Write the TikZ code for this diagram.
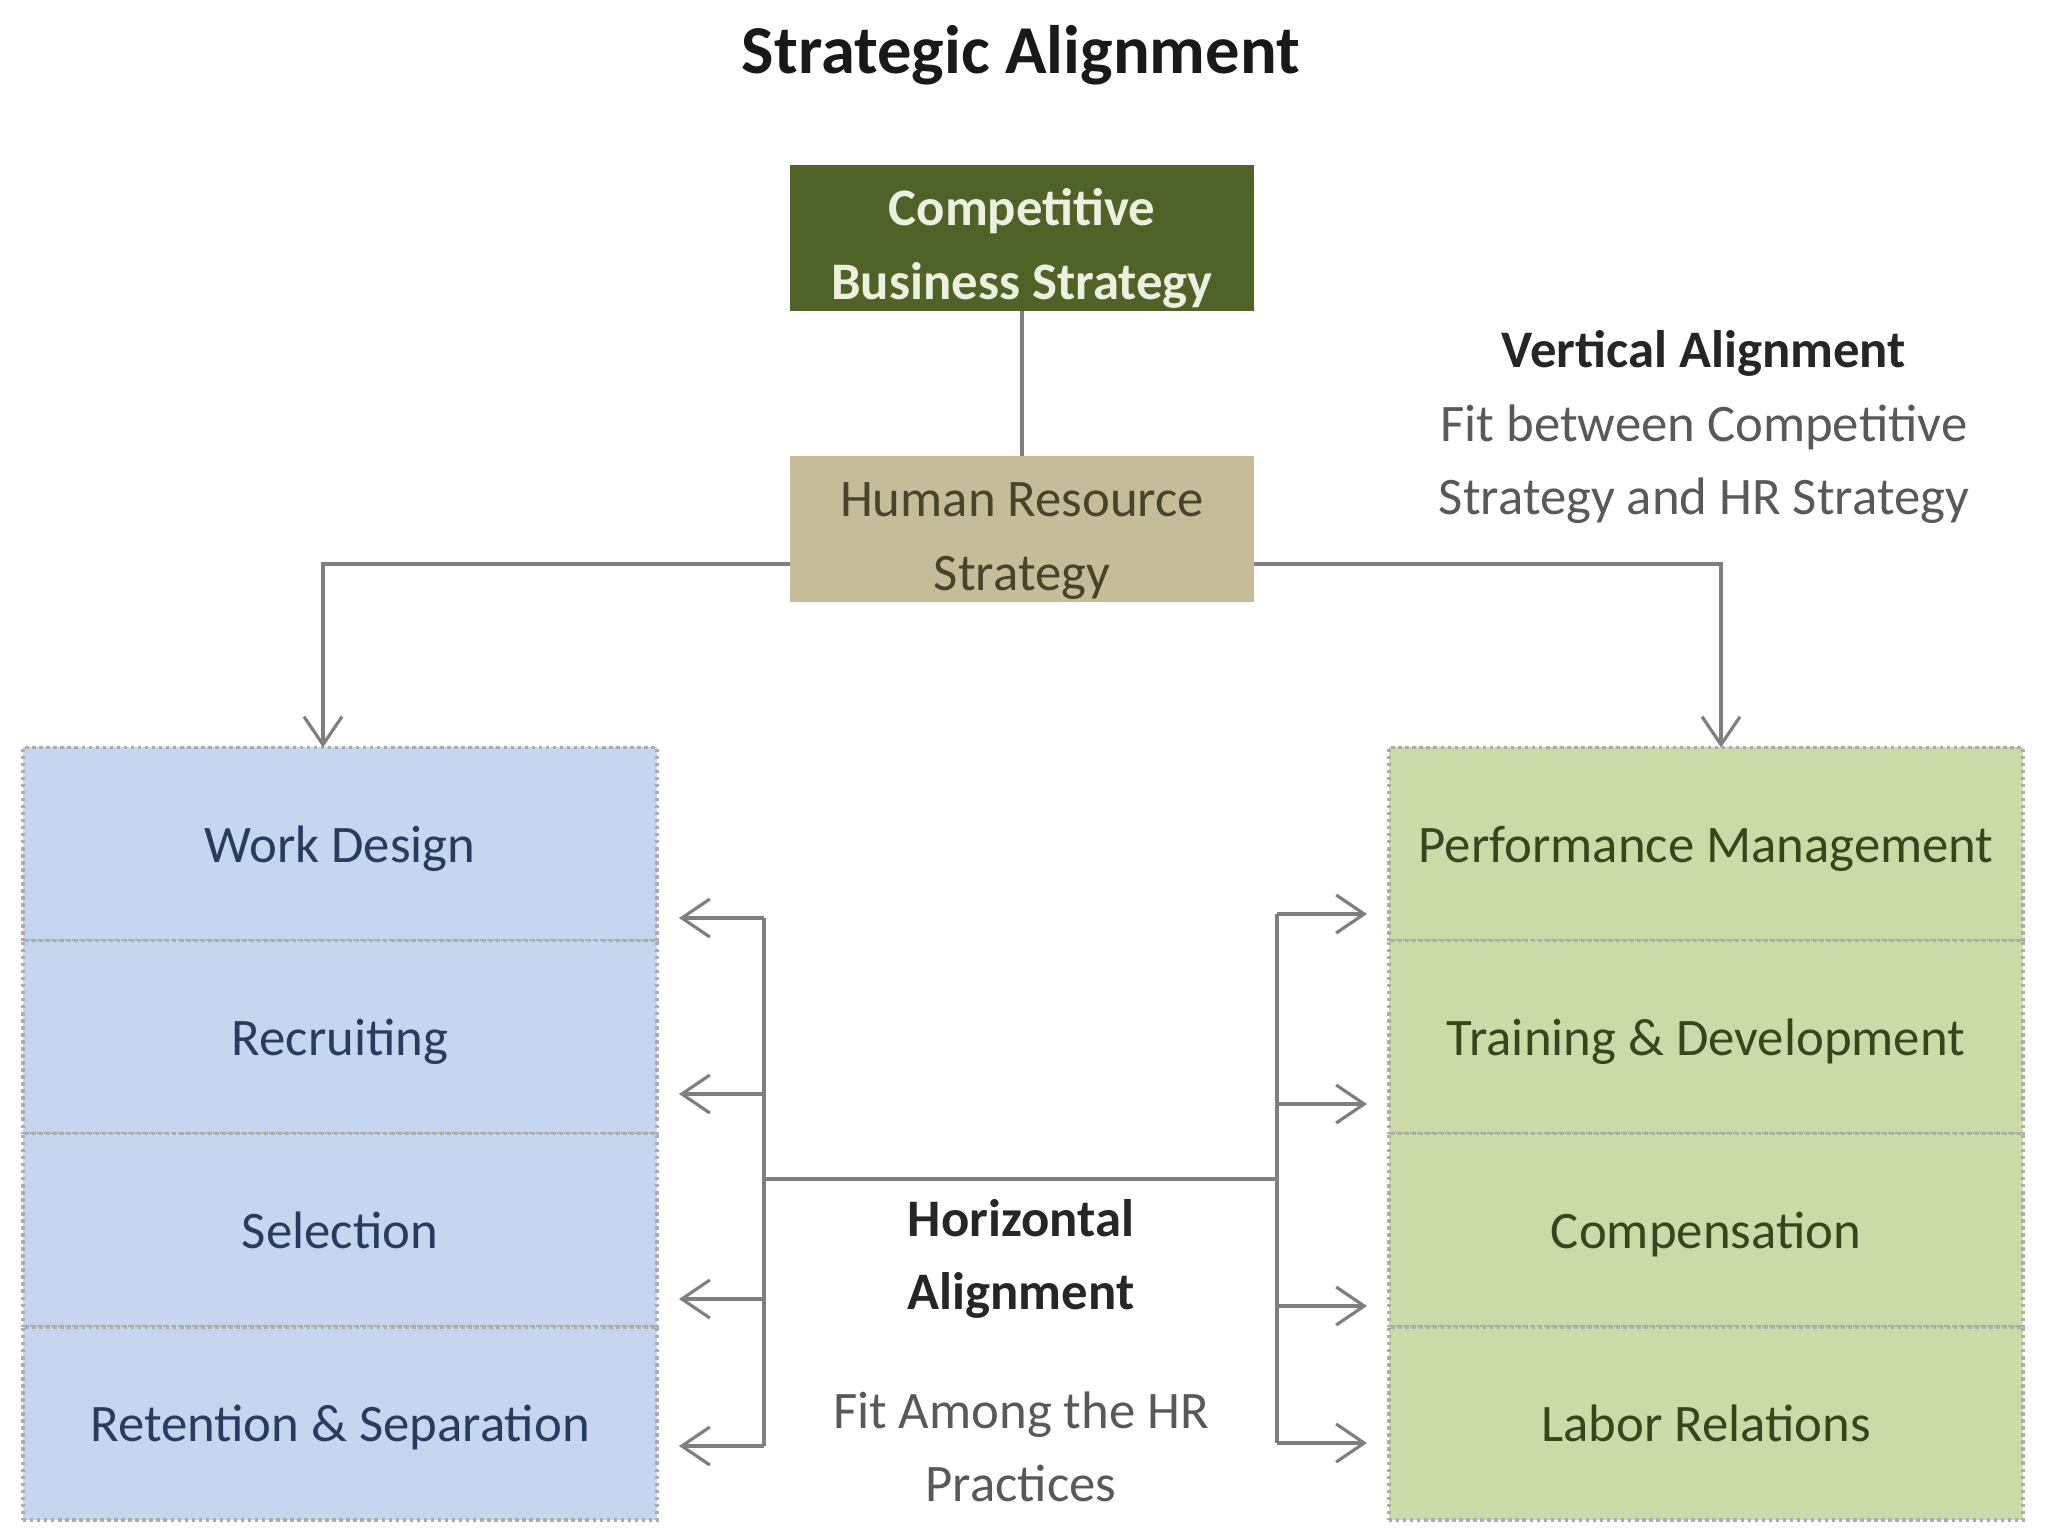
\documentclass[tikz,border=0pt]{standalone}
\usepackage{fontspec}
\setmainfont{Carlito}
\usepackage{xcolor}
\usepackage{tikz}
\usetikzlibrary{arrows.meta,positioning}
\definecolor{olivedark}{HTML}{4F6228}
\definecolor{olivelight}{HTML}{EBF1DE}
\definecolor{tanfill}{HTML}{C4BD97}
\definecolor{tantext}{HTML}{494429}
\definecolor{bluefill}{HTML}{C6D6EF}
\definecolor{bluetext}{HTML}{2A3C5E}
\definecolor{greenfill}{HTML}{CADBA7}
\definecolor{greentext}{HTML}{37461C}
\definecolor{linegray}{HTML}{7F7F7F}
\definecolor{notegray}{HTML}{595959}
\newcommand{\boxstrut}{\rule{0pt}{0.58cm}}
\tikzset{
  basefont/.style={font=\fontsize{15}{20.8}\selectfont},
  strategybox/.style={basefont,align=center,minimum width=4.63cm,minimum height=1.46cm,
    inner sep=0pt,outer sep=0pt},
  rowbox/.style={basefont,draw=gray!65,densely dotted,line width=1pt,align=center,
    minimum width=6.34cm,minimum height=1.93cm,inner sep=0pt,outer sep=0pt,
    text height=0.4cm,text depth=0.03cm},
  hrrow/.style={rowbox,fill=bluefill,text=bluetext},
  practicerow/.style={rowbox,fill=greenfill,text=greentext},
  notetext/.style={basefont,align=center,text=notegray},
  plainline/.style={draw=linegray,line width=0.9pt},
  fitarrow/.style={plainline,-{Straight Barb[length=2.8mm,width=3.8mm]}}
}
\begin{document}
\begin{tikzpicture}[x=0.01cm,y=-0.01cm]
  \useasboundingbox[fill=white] (0,0) rectangle (2048,1536);

  \node[font=\fontsize{19.5}{24}\selectfont\bfseries,text=black!90] (title) at (1021,55) {Strategic Alignment};

  \node[strategybox,fill=olivedark,text=olivelight,font=\fontsize{15}{20.8}\selectfont\bfseries] (cbs) at (1022,238) {\boxstrut Competitive\\Business Strategy};
  \node[strategybox,fill=tanfill,text=tantext] (hrs) at (1022,529) {\boxstrut Human Resource\\Strategy};

  \node[notetext] (valign) at (1704,427) {{\bfseries\color{black!85}Vertical Alignment}\\Fit between Competitive\\Strategy and HR Strategy};

  % HR practices, left column
  \node[hrrow] (work) at (340,844) {Work Design};
  \node[hrrow,below=0pt of work] (recruit) {Recruiting};
  \node[hrrow,below=0pt of recruit] (select) {Selection};
  \node[hrrow,below=0pt of select] (retain) {Retention \& Separation};

  % HR practices, right column
  \node[practicerow] (perf) at (1706,844) {Performance Management};
  \node[practicerow,below=0pt of perf] (train) {Training \& Development};
  \node[practicerow,below=0pt of train] (comp) {Compensation};
  \node[practicerow,below=0pt of comp] (labor) {Labor Relations};

  \node[basefont,align=center,font=\fontsize{15}{20.8}\selectfont\bfseries,text=black!85] (halign) at (1021,1259) {Horizontal\\Alignment};
  \node[notetext] (hafit) at (1021,1447) {Fit Among the HR\\Practices};

  % vertical alignment
  \draw[plainline] (cbs) -- (hrs);
  \draw[fitarrow] ([yshift=-0.35cm]hrs.west) -| ([xshift=-0.17cm]work.north);
  \draw[fitarrow] ([yshift=-0.35cm]hrs.east) -| ([xshift=0.15cm]perf.north);

  % horizontal alignment
  \foreach \i/\ly/\ry in {1/918/914,2/1094/1104,3/1299/1306,4/1446/1443} {
    \coordinate (lbar\i) at (764,\ly);
    \coordinate (ltip\i) at (679,\ly);
    \coordinate (rbar\i) at (1277,\ry);
    \coordinate (rtip\i) at (1367,\ry);
  }
  \coordinate (lmid) at (764,1179);
  \coordinate (rmid) at (1277,1179);
  \draw[plainline] (lbar1) -- (lbar4);
  \draw[plainline] (rbar1) -- (rbar4);
  \draw[plainline] (lmid) -- (rmid);
  \foreach \i in {1,...,4} {
    \draw[fitarrow] (lbar\i) -- (ltip\i);
    \draw[fitarrow] (rbar\i) -- (rtip\i);
  }
\end{tikzpicture}
\end{document}
